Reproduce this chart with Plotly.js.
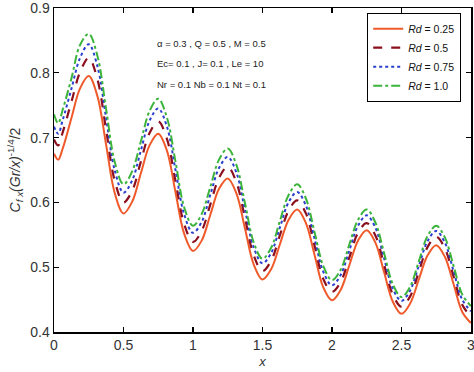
<!DOCTYPE html>
<html>
<head>
<meta charset="utf-8">
<script src="https://cdn.plot.ly/plotly-3.0.1.min.js"></script>
<style>html,body{margin:0;padding:0;background:#fff;}#chart{width:474px;height:372px;}</style>
</head>
<body>
<div id="chart"></div>
<script>
const xVals = [0, 0.03, 0.0625, 0.125, 0.1875, 0.25, 0.3125, 0.375, 0.4375, 0.5, 0.5625, 0.625, 0.6875, 0.75, 0.8125, 0.875, 0.9375, 1.0,
  1.0625, 1.125, 1.1875, 1.25, 1.3125, 1.375, 1.4375, 1.5, 1.5625, 1.625, 1.6875, 1.75, 1.8125, 1.875, 1.9375, 2.0,
  2.0625, 2.125, 2.1875, 2.25, 2.3125, 2.375, 2.4375, 2.5, 2.5625, 2.625, 2.6875, 2.75, 2.8125, 2.875, 2.9375, 3.0];
const rd025 = [0.675, 0.666, 0.683, 0.730, 0.776, 0.795, 0.764, 0.689, 0.614, 0.583, 0.601, 0.645, 0.688, 0.706, 0.680, 0.615, 0.551, 0.525,
  0.541, 0.581, 0.621, 0.637, 0.614, 0.559, 0.504, 0.481, 0.497, 0.535, 0.573, 0.589, 0.568, 0.519, 0.469, 0.449,
  0.465, 0.503, 0.541, 0.557, 0.538, 0.4925, 0.447, 0.428, 0.444, 0.481, 0.518, 0.534, 0.516, 0.474, 0.431, 0.414];
const rd05  = [0.697, 0.688, 0.708, 0.755, 0.801, 0.823, 0.790, 0.712, 0.633, 0.600, 0.618, 0.663, 0.707, 0.725, 0.698, 0.632, 0.566, 0.539,
  0.556, 0.597, 0.638, 0.655, 0.631, 0.575, 0.518, 0.494, 0.510, 0.549, 0.587, 0.603, 0.583, 0.533, 0.482, 0.462,
  0.477, 0.515, 0.553, 0.568, 0.549, 0.504, 0.458, 0.439, 0.455, 0.493, 0.531, 0.547, 0.529, 0.486, 0.442, 0.424];
const rd075 = [0.717, 0.706, 0.727, 0.775, 0.823, 0.844, 0.810, 0.730, 0.649, 0.615, 0.634, 0.680, 0.726, 0.745, 0.717, 0.649, 0.581, 0.553,
  0.570, 0.612, 0.653, 0.670, 0.646, 0.588, 0.530, 0.506, 0.522, 0.561, 0.600, 0.616, 0.595, 0.544, 0.493, 0.472,
  0.488, 0.526, 0.564, 0.580, 0.561, 0.514, 0.467, 0.448, 0.464, 0.502, 0.540, 0.556, 0.538, 0.494, 0.450, 0.432];
const rd10  = [0.736, 0.722, 0.743, 0.791, 0.843, 0.860, 0.826, 0.744, 0.662, 0.628, 0.648, 0.694, 0.741, 0.760, 0.731, 0.662, 0.592, 0.564,
  0.582, 0.624, 0.666, 0.683, 0.658, 0.598, 0.538, 0.513, 0.530, 0.571, 0.611, 0.628, 0.606, 0.554, 0.502, 0.480,
  0.496, 0.535, 0.573, 0.589, 0.569, 0.522, 0.474, 0.454, 0.470, 0.509, 0.548, 0.564, 0.546, 0.502, 0.458, 0.440];
const seriesNames = ['<i>Rd</i> = 0.25', '<i>Rd</i> = 0.5', '<i>Rd</i> = 0.75', '<i>Rd</i> = 1.0'];
const xTicks = [0, 0.5, 1, 1.5, 2, 2.5, 3];
const xTickText = ['0', '0.5', '1', '1.5', '2', '2.5', '3'];
const yTicks = [0.4, 0.5, 0.6, 0.7, 0.8, 0.9];
const yTickText = ['0.4', '0.5', '0.6', '0.7', '0.8', '0.9'];
const paramLines = ['\u03b1 = 0.3 , Q = 0.5 , M = 0.5', 'Ec= 0.1 , J= 0.1 , Le = 10', 'Nr = 0.1 Nb = 0.1 Nt = 0.1'];

const ys = [rd025, rd05, rd075, rd10];
const colors = ['#f05a2a', '#8c0f1e', '#2a3fd0', '#3cb43c'];
const dashes = ['solid', 'dash', 'dot', 'dashdot'];
const widths = [2, 2.2, 2, 2];
const traces = ys.map((y, i) => ({
  x: xVals, y: y, type: 'scatter', mode: 'lines', name: seriesNames[i],
  line: {color: colors[i], dash: dashes[i], width: widths[i], shape: 'spline', smoothing: 1},
  cliponaxis: true
}));

const FONT = 'Liberation Sans, Arial, sans-serif';
const axisCommon = {
  showline: true, linecolor: '#000', linewidth: 1.5, mirror: 'ticks',
  ticks: 'inside', ticklen: 5, tickcolor: '#000', tickwidth: 1.2,
  showgrid: false, zeroline: false, ticklabeloverflow: 'allow',
  tickfont: {family: FONT, size: 14, color: '#333'}
};

const T = 8, B = 40, L = 54, R = 3;
const PH = 372 - T - B, PW = 474 - L - R;
const annotations = paramLines.map((t, i) => ({
  xref: 'paper', yref: 'paper', x: (155 - L) / PW, y: (372 - B - (43 + i * 20.5)) / PH,
  xanchor: 'left', yanchor: 'middle', showarrow: false, text: t,
  font: {family: FONT, size: 9.5, color: '#222'}
}));

const layout = {
  width: 474, height: 372,
  margin: {l: L, r: R, t: T, b: B},
  paper_bgcolor: '#fff', plot_bgcolor: '#fff',
  showlegend: true,
  legend: {
    x: (461 - L) / PW, y: (372 - B - 13) / PH, xanchor: 'right', yanchor: 'top',
    bgcolor: '#fff', bordercolor: '#000', borderwidth: 1.2,
    font: {family: FONT, size: 10.5, color: '#111'},
    tracegroupgap: 0, itemwidth: 30
  },
  xaxis: Object.assign({}, axisCommon, {
    range: [0, 3.0005], tickvals: xTicks, ticktext: xTickText,
    title: {text: '<i>x</i>', font: {family: FONT, size: 13, color: '#333'}, standoff: 4}
  }),
  yaxis: Object.assign({}, axisCommon, {
    range: [0.4, 0.9], tickvals: yTicks, ticktext: yTickText,
    title: {text: '<i>C</i><sub><i>f x</i></sub><i>(Gr/x)</i><sup>-1/4</sup>/2', font: {family: FONT, size: 14, color: '#333'}, standoff: 6}
  }),
  annotations: annotations
};

Plotly.newPlot('chart', traces, layout, {displayModeBar: false, staticPlot: true});
</script>
</body>
</html>
